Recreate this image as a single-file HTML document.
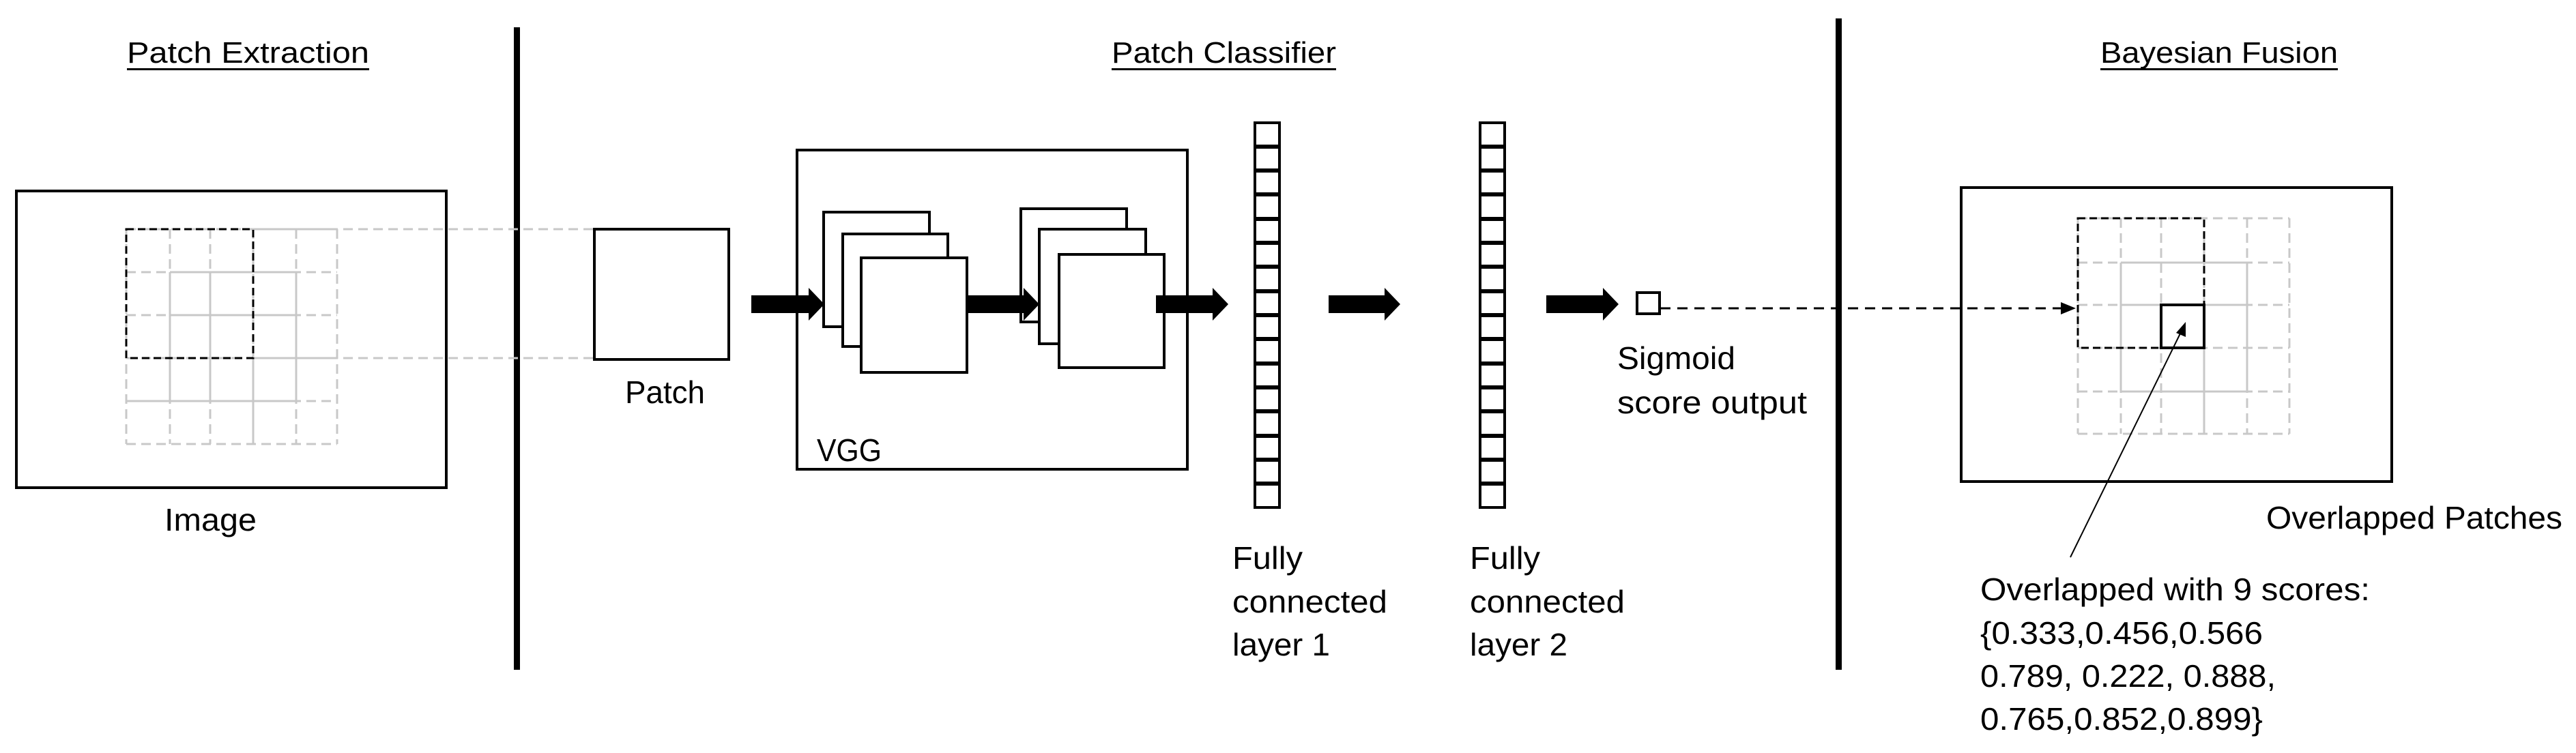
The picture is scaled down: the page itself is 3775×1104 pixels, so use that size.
<!DOCTYPE html>
<html><head><meta charset="utf-8"><style>
html,body{margin:0;padding:0;background:#fff;}
svg{display:block;}
text{font-family:"Liberation Sans",sans-serif;fill:#000;}
</style></head><body>
<svg width="3775" height="1104" viewBox="0 0 3775 1104" xmlns="http://www.w3.org/2000/svg">
<rect width="3775" height="1104" fill="#fff"/>
<!-- dividers -->
<rect x="753" y="40" width="9" height="942" fill="#000"/>
<rect x="2690" y="27" width="9" height="955" fill="#000"/>

<!-- titles -->
<text x="186" y="92" font-size="44" textLength="355" lengthAdjust="spacingAndGlyphs">Patch Extraction</text>
<rect x="186" y="100" width="355" height="3" fill="#000"/>
<text x="1629" y="92" font-size="44" textLength="329" lengthAdjust="spacingAndGlyphs">Patch Classifier</text>
<rect x="1629" y="100" width="329" height="3" fill="#000"/>
<text x="3078" y="92" font-size="44" textLength="348" lengthAdjust="spacingAndGlyphs">Bayesian Fusion</text>
<rect x="3078" y="100" width="348" height="3" fill="#000"/>

<!-- Patch Extraction image -->
<rect x="24" y="280" width="630" height="435" fill="none" stroke="#000" stroke-width="4"/>
<g stroke="#c8c8c8" stroke-width="3" fill="none" stroke-dasharray="14 8">
<line x1="185" y1="336" x2="494" y2="336"/><line x1="185" y1="399" x2="494" y2="399"/>
<line x1="185" y1="462" x2="494" y2="462"/><line x1="185" y1="525" x2="494" y2="525"/>
<line x1="185" y1="588" x2="494" y2="588"/><line x1="185" y1="651" x2="494" y2="651"/>
<line x1="185" y1="336" x2="185" y2="651"/><line x1="249" y1="336" x2="249" y2="651"/>
<line x1="308" y1="336" x2="308" y2="651"/><line x1="371" y1="336" x2="371" y2="651"/>
<line x1="434" y1="336" x2="434" y2="651"/><line x1="494" y1="336" x2="494" y2="651"/>
<line x1="371" y1="336" x2="871" y2="336"/><line x1="371" y1="525" x2="871" y2="525"/>
</g>
<g stroke="#c8c8c8" stroke-width="3">
<line x1="249" y1="399" x2="434" y2="399"/><line x1="249" y1="462" x2="434" y2="462"/>
<line x1="249" y1="399" x2="249" y2="588"/><line x1="308" y1="399" x2="308" y2="588"/>
<line x1="434" y1="399" x2="434" y2="588"/><line x1="371" y1="525" x2="371" y2="651"/>
<line x1="185" y1="588" x2="434" y2="588"/>
</g>
<rect x="185" y="336" width="186" height="189" fill="none" stroke="#000" stroke-width="3" stroke-dasharray="11 6"/>
<text x="241" y="778" font-size="46" textLength="135" lengthAdjust="spacingAndGlyphs">Image</text>

<!-- Patch -->
<rect x="871" y="336" width="197" height="191" fill="#fff" stroke="#000" stroke-width="4"/>
<text x="916" y="591" font-size="46" textLength="117" lengthAdjust="spacingAndGlyphs">Patch</text>

<!-- VGG box -->
<rect x="1168" y="220" width="572" height="468" fill="none" stroke="#000" stroke-width="4"/>
<text x="1197" y="676" font-size="46" textLength="95" lengthAdjust="spacingAndGlyphs">VGG</text>
<g fill="#fff" stroke="#000" stroke-width="4">
<rect x="1207" y="311" width="155" height="168"/>
<rect x="1235" y="343" width="154" height="165"/>
<rect x="1262" y="378" width="155" height="168"/>
<rect x="1496" y="306" width="155" height="166"/>
<rect x="1523" y="336" width="156" height="168"/>
<rect x="1552" y="373" width="154" height="166"/>
</g>

<!-- block arrows -->
<g fill="#000">
<polygon points="1101,433 1185,433 1185,422 1208,446 1185,470 1185,459 1101,459"/>
<polygon points="1417,433 1500,433 1500,422 1523,446 1500,470 1500,459 1417,459"/>
<polygon points="1694,433 1777,433 1777,422 1800,446 1777,470 1777,459 1694,459"/>
<polygon points="1947,433 2029,433 2029,422 2052,446 2029,470 2029,459 1947,459"/>
<polygon points="2266,433 2349,433 2349,422 2372,446 2349,470 2349,459 2266,459"/>
</g>

<!-- FC columns -->
<g id="fc1">
<rect x="1839" y="180" width="36" height="564" fill="#fff" stroke="#000" stroke-width="4"/>
<g fill="#000">
<rect x="1839" y="212" width="36" height="6"/><rect x="1839" y="247" width="36" height="6"/>
<rect x="1839" y="282" width="36" height="6"/><rect x="1839" y="318" width="36" height="6"/>
<rect x="1839" y="353" width="36" height="6"/><rect x="1839" y="388" width="36" height="6"/>
<rect x="1839" y="424" width="36" height="6"/><rect x="1839" y="459" width="36" height="6"/>
<rect x="1839" y="494" width="36" height="6"/><rect x="1839" y="530" width="36" height="6"/>
<rect x="1839" y="565" width="36" height="6"/><rect x="1839" y="600" width="36" height="6"/>
<rect x="1839" y="636" width="36" height="6"/><rect x="1839" y="671" width="36" height="6"/>
<rect x="1839" y="706" width="36" height="6"/>
</g>
</g>
<use href="#fc1" x="330"/>

<text x="1806" y="834" font-size="46" textLength="103" lengthAdjust="spacingAndGlyphs">Fully</text>
<text x="1806" y="898" font-size="46" textLength="227" lengthAdjust="spacingAndGlyphs">connected</text>
<text x="1806" y="961" font-size="46" textLength="143" lengthAdjust="spacingAndGlyphs">layer 1</text>
<text x="2154" y="834" font-size="46" textLength="103" lengthAdjust="spacingAndGlyphs">Fully</text>
<text x="2154" y="898" font-size="46" textLength="227" lengthAdjust="spacingAndGlyphs">connected</text>
<text x="2154" y="961" font-size="46" textLength="143" lengthAdjust="spacingAndGlyphs">layer 2</text>

<!-- sigmoid -->
<rect x="2399" y="429" width="33" height="31" fill="#fff" stroke="#000" stroke-width="4"/>
<text x="2370" y="541" font-size="46" textLength="173" lengthAdjust="spacingAndGlyphs">Sigmoid</text>
<text x="2370" y="606" font-size="46" textLength="278" lengthAdjust="spacingAndGlyphs">score output</text>
<line x1="2433" y1="452" x2="3022" y2="452" stroke="#000" stroke-width="3" stroke-dasharray="15 10"/>
<polygon points="3042,452 3020,443 3020,461" fill="#000"/>

<!-- Bayesian fusion -->
<rect x="2874" y="275" width="631" height="431" fill="none" stroke="#000" stroke-width="4"/>
<g stroke="#c8c8c8" stroke-width="3" fill="none" stroke-dasharray="14 8">
<line x1="3045" y1="320" x2="3355" y2="320"/><line x1="3045" y1="385" x2="3355" y2="385"/>
<line x1="3045" y1="447" x2="3355" y2="447"/><line x1="3045" y1="510" x2="3355" y2="510"/>
<line x1="3045" y1="574" x2="3355" y2="574"/><line x1="3045" y1="636" x2="3355" y2="636"/>
<line x1="3045" y1="320" x2="3045" y2="636"/><line x1="3108" y1="320" x2="3108" y2="636"/>
<line x1="3167" y1="320" x2="3167" y2="636"/><line x1="3230" y1="320" x2="3230" y2="636"/>
<line x1="3293" y1="320" x2="3293" y2="636"/><line x1="3355" y1="320" x2="3355" y2="636"/>
</g>
<g stroke="#c8c8c8" stroke-width="3">
<line x1="3108" y1="385" x2="3293" y2="385"/><line x1="3108" y1="447" x2="3293" y2="447"/>
<line x1="3108" y1="385" x2="3108" y2="574"/><line x1="3293" y1="385" x2="3293" y2="574"/>
<line x1="3108" y1="574" x2="3293" y2="574"/><line x1="3230" y1="510" x2="3230" y2="636"/>
</g>
<rect x="3045" y="320" width="185" height="190" fill="none" stroke="#000" stroke-width="3" stroke-dasharray="11 6"/>
<rect x="3167" y="447" width="63" height="63" fill="none" stroke="#000" stroke-width="4"/>
<line x1="3034" y1="817" x2="3196" y2="487" stroke="#000" stroke-width="2"/>
<polygon points="3203,472 3189,488 3203,494" fill="#000"/>
<text x="3321" y="775" font-size="46" textLength="434" lengthAdjust="spacingAndGlyphs">Overlapped Patches</text>
<text x="2902" y="880" font-size="46" textLength="571" lengthAdjust="spacingAndGlyphs">Overlapped with 9 scores:</text>
<text x="2902" y="944" font-size="46" textLength="414" lengthAdjust="spacingAndGlyphs">{0.333,0.456,0.566</text>
<text x="2902" y="1007" font-size="46" textLength="433" lengthAdjust="spacingAndGlyphs">0.789, 0.222, 0.888,</text>
<text x="2902" y="1070" font-size="46" textLength="414" lengthAdjust="spacingAndGlyphs">0.765,0.852,0.899}</text>
</svg>
</body></html>
